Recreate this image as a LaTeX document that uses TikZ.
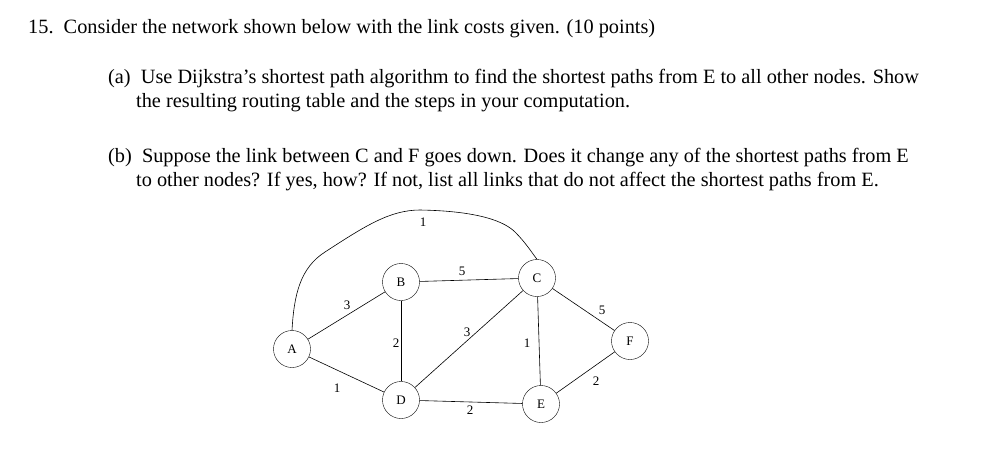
\documentclass[tikz,border=0pt]{standalone}
\usepackage{fontspec}
\setmainfont{Liberation Serif}
\begin{document}
\begin{tikzpicture}[x=1pt,y=-1pt,
  txt/.style={anchor=base west,inner sep=0pt,font=\fontsize{20.3}{24}\selectfont},
  vtx/.style={circle,draw,minimum size=37pt,inner sep=0pt,font=\fontsize{13}{15}\selectfont},
  cost/.style={inner sep=0pt,font=\fontsize{13}{15}\selectfont},
  edge/.style={draw,line width=0.6pt}]
\useasboundingbox (0,0) rectangle (996,456);
\node[txt] (t0) at (28,33) {15.\ \ Consider the network shown below with the link costs given. (10 points)};
\node[txt] (ta) at (108,83) {(a)\ \ Use Dijkstra’s shortest path algorithm to find the shortest paths from E to all other nodes. Show};
\node[txt] (ta2) at (136,107) {the resulting routing table and the steps in your computation.};
\node[txt] (tb) at (108,162) {(b)\ \ Suppose the link between C and F goes down. Does it change any of the shortest paths from E};
\node[txt] (tb2) at (136,186) {to other nodes? If yes, how? If not, list all links that do not affect the shortest paths from E.};
\node[vtx] (A) at (292,349) {A};
\node[vtx] (B) at (401,282) {B};
\node[vtx] (C) at (537,278) {C};
\node[vtx] (D) at (401,400) {D};
\node[vtx] (E) at (541,404) {E};
\node[vtx] (F) at (630,341) {F};
\draw[edge] (A) -- (B);
\draw[edge] (A) -- (D);
\draw[edge] (B) -- (C);
\draw[edge] (B) -- (D);
\draw[edge] (D) -- (C);
\draw[edge] (D) -- (E);
\draw[edge] (C) -- (E);
\draw[edge] (C) -- (F);
\draw[edge] (E) -- (F);
\draw[edge] (A.north) .. controls (294,295) and (300,268) .. (325,252)
  .. controls (365,226) and (390,210) .. (420,210)
  .. controls (480,211) and (505,222) .. (515,232)
  .. controls (525,242) and (530,250) .. (C.north);
\node[cost] (l1) at (423,222) {1};
\node[cost] (l2) at (347,305) {3};
\node[cost] (l3) at (396,343) {2};
\node[cost] (l4) at (462,271) {5};
\node[cost] (l5) at (467,332) {3};
\node[cost] (l6) at (527,343) {1};
\node[cost] (l7) at (602,310) {5};
\node[cost] (l8) at (596,381) {2};
\node[cost] (l9) at (337,388) {1};
\node[cost] (l10) at (470,410) {2};
\end{tikzpicture}
\end{document}
